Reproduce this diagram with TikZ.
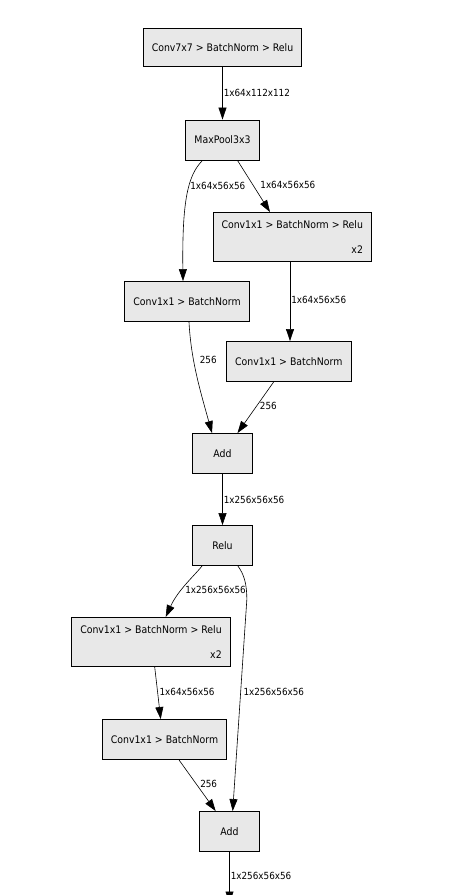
\documentclass[tikz,border=0pt]{standalone}
\usepackage{fontspec}
\setmainfont{DejaVu Sans Condensed}
\usetikzlibrary{arrows.meta}
\definecolor{boxgray}{HTML}{E8E8E8}
\begin{document}
\begin{tikzpicture}[x=1pt,y=-1pt,
  box/.style={draw=black, line width=0.9pt, fill=boxgray, inner sep=0pt,
    font=\fontsize{10.4}{12}\selectfont, text=black},
  lbl/.style={font=\fontsize{9.8}{12}\selectfont, inner sep=1pt, anchor=west, text=black},
  edge/.style={draw=black, line width=0.6pt, -{Triangle[length=12pt,width=8pt]}}]
\clip (0,0) rectangle (468,895);
\fill[white] (0,0) rectangle (468,895);

\node[box, minimum width=158pt, minimum height=38pt] (c7) at (222.5,47.5) {Conv7x7 > BatchNorm > Relu};
\node[box, minimum width=74pt, minimum height=40pt] (mp) at (222.5,140) {MaxPool3x3};
\node[box, minimum width=157.5pt, minimum height=48.5pt, align=right] (cr1) at (292.25,236.75) {Conv1x1 > BatchNorm > Relu\\[13pt]x2};
\node[box, minimum width=125pt, minimum height=40pt] (cb1) at (187,301.5) {Conv1x1 > BatchNorm};
\node[box, minimum width=125.5pt, minimum height=39.5pt] (cb2) at (288.75,361.25) {Conv1x1 > BatchNorm};
\node[box, minimum width=60pt, minimum height=40pt] (add1) at (222.5,453.5) {Add};
\node[box, minimum width=60pt, minimum height=39.5pt] (relu) at (222.5,545.25) {Relu};
\node[box, minimum width=159pt, minimum height=49pt, align=right] (cr2) at (151,642) {Conv1x1 > BatchNorm > Relu\\[13pt]x2};
\node[box, minimum width=124pt, minimum height=40pt] (cb3) at (164.5,739.5) {Conv1x1 > BatchNorm};
\node[box, minimum width=60pt, minimum height=39.5pt] (add2) at (229.5,831.25) {Add};
\coordinate (out) at (229.5,903.5);

\draw[edge] (c7.south) -- (mp.north) node[lbl,pos=.5]{1x64x112x112};
\draw[edge] ([xshift=-20pt]mp.south) .. controls (188,175) and (182,200) .. ([xshift=-4pt]cb1.north) node[lbl,pos=.4]{1x64x56x56};
\draw[edge] ([xshift=15pt]mp.south) -- ([xshift=-22.25pt]cr1.north) node[lbl,pos=.48,xshift=6pt]{1x64x56x56};
\draw[edge] ([xshift=-2.25pt]cr1.south) -- ([xshift=1.25pt]cb2.north) node[lbl,pos=.48]{1x64x56x56};
\draw[edge] ([xshift=2pt]cb1.south) .. controls (191,360) and (200,390) .. ([xshift=-10.5pt]add1.north) node[lbl,pos=.35,xshift=5pt]{256};
\draw[edge] ([xshift=-14.75pt]cb2.south) -- ([xshift=15pt]add1.north) node[lbl,pos=.476,xshift=2pt]{256};
\draw[edge] (add1.south) -- (relu.north) node[lbl,pos=.5]{1x256x56x56};
\draw[edge] ([xshift=-20pt]relu.south) .. controls (195,575) and (178,590) .. ([xshift=14.7pt]cr2.north) node[lbl,pos=.6,xshift=2.2pt]{1x256x56x56};
\draw[edge] ([xshift=15pt]relu.south) .. controls (244,574) and (247,584) .. (246.8,600) -- ([xshift=3.2pt]add2.north) node[lbl,pos=.435,xshift=1.6pt]{1x256x56x56};
\draw[edge] ([xshift=3.7pt]cr2.south) -- ([xshift=-3.8pt]cb3.north) node[lbl,pos=.48,xshift=.7pt]{1x64x56x56};
\draw[edge] ([xshift=14.5pt]cb3.south) -- ([xshift=-13.8pt]add2.north) node[lbl,pos=.47,xshift=2.7pt]{256};
\draw[edge] (add2.south) -- (out) node[lbl,pos=.476]{1x256x56x56};
\end{tikzpicture}
\end{document}
